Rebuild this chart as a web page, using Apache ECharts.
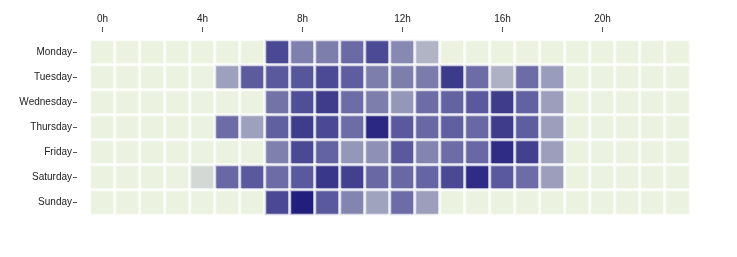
<!DOCTYPE html>
<html><head><meta charset="utf-8">
<script src="https://cdn.jsdelivr.net/npm/echarts@6/dist/echarts.min.js"></script>
<style>html,body{margin:0;padding:0;background:#fff}#c{width:737px;height:257px}</style>
</head><body><div id="c"></div>
<script>
const hours = ['0h','1h','2h','3h','4h','5h','6h','7h','8h','9h','10h','11h','12h','13h','14h','15h','16h','17h','18h','19h','20h','21h','22h','23h'];
const days = ['Monday','Tuesday','Wednesday','Thursday','Friday','Saturday','Sunday'];
const monday    = [0,0,0,0,0,0,0,7.3,4.5,4.6,5.6,7.2,4.1,2.4,0,0,0,0,0,0,0,0,0,0];
const tuesday   = [0,0,0,0,0,3.1,6.4,6.5,6.6,7.2,6.3,4.6,4.6,4.7,8.1,5.5,2.5,5.5,3.3,0,0,0,0,0];
const wednesday = [0,0,0,0,0,0,0,5.1,7.0,8.0,5.5,4.6,3.5,5.5,6.0,6.5,8.0,6.1,3.2,0,0,0,0,0];
const thursday  = [0,0,0,0,0,5.5,3.1,6.2,8.0,7.3,5.5,9.3,6.5,5.7,6.2,5.7,8.0,6.3,3.2,0,0,0,0,0];
const friday    = [0,0,0,0,0,0,0,4.5,7.3,6.0,3.5,3.8,6.5,4.3,5.5,5.7,9.0,7.7,3.2,0,0,0,0,0];
const saturday  = [0,0,0,0,1,5.7,6.5,5.5,6.5,8.3,7.7,5.7,5.7,5.9,7.3,9.0,6.5,5.5,3.2,0,0,0,0,0];
const sunday    = [0,0,0,0,0,0,0,7.3,10,6.5,4.3,3.0,5.5,3.2,0,0,0,0,0,0,0,0,0,0];
const rows = [monday,tuesday,wednesday,thursday,friday,saturday,sunday];

const data = [];
rows.forEach((r, y) => r.forEach((v, x) => data.push([x, y, v])));

const font = '"Liberation Sans", Arial, Helvetica, sans-serif';
const chart = echarts.init(document.getElementById('c'), null, {renderer:'canvas'});
chart.setOption({
  animation: false,
  grid: {left: 90, right: 47, top: 40, bottom: 42},
  xAxis: {
    type: 'category', data: hours, position: 'top', offset: 8,
    axisLine: {show: false},
    axisTick: {show: true, alignWithLabel: true, interval: 3, length: 5, lineStyle: {color: '#555'}},
    axisLabel: {interval: 3, margin: 8, fontSize: 10, color: '#222', fontFamily: font},
    splitLine: {show: false}
  },
  yAxis: {
    type: 'category', data: days, inverse: true, offset: 13,
    axisLine: {show: false},
    axisTick: {show: true, alignWithLabel: true, length: 4, lineStyle: {color: '#555'}},
    axisLabel: {margin: 5, fontSize: 10, color: '#222', fontFamily: font},
    splitLine: {show: false}
  },
  visualMap: {
    show: false, min: 0, max: 10, calculable: false,
    inRange: {color: ['#ebf3e0','#d3d8d5','#bcbfca','#a0a3be','#8a8bb3','#7675a9','#6463a2','#504e97','#3e3c8b','#2e2c85','#221e7c']}
  },
  series: [{
    type: 'heatmap', data: data,
    itemStyle: {borderColor: 'rgba(255,255,255,0.75)', borderWidth: 3},
    emphasis: {disabled: true}
  }]
});
</script></body></html>
